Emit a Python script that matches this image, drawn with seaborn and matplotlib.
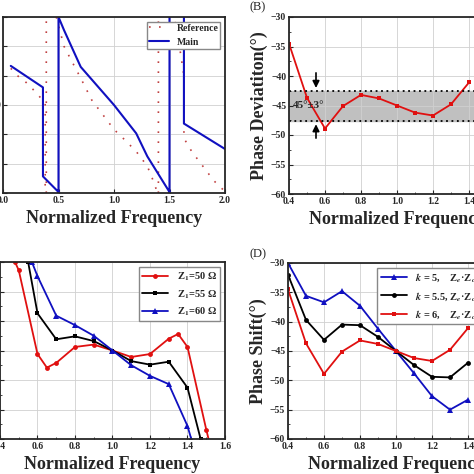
import numpy as np
import matplotlib
matplotlib.use("Agg")
import matplotlib.pyplot as plt
import seaborn as sns

sns.set_style("ticks")
plt.rcParams["font.family"] = ["Liberation Serif", "DejaVu Serif"]
plt.rcParams["font.weight"] = "bold"
plt.rcParams["mathtext.fontset"] = "stix"

# (A) phase vs normalized frequency, NaN breaks the wrapped segments
main_f = [0.07, 0.36, 0.36, 0.5, np.nan, 0.5, 0.5, 0.55, 0.7, 1.0, 1.2, 1.3, 1.5, np.nan,
          1.5, 1.5, np.nan, 1.63, 1.63, 2.0]
main_p = [80, 36, -146, -178, np.nan, -180, 180, 153, 78, 0, -58, -105, -178, np.nan,
          -180, 200, np.nan, 200, -38, -90]
ref_f = [0.07, 0.13, 0.2, 0.27, 0.33, 0.38, 0.38, np.nan, 0.39, 0.39, np.nan,
         0.48, 0.55, 0.6, 0.7, 0.8, 0.9, 1.0, 1.1, 1.2, 1.3, 1.35, 1.38, np.nan, 1.4, 1.4, np.nan,
         1.55, 1.6, 1.63, 1.63, 1.7, 1.8, 1.9, 2.0]
ref_p = [75, 60, 48, 32, 17, 5, -180, np.nan, -180, 180, np.nan,
         180, 120, 98, 55, 10, -20, -50, -72, -95, -125, -153, -172, np.nan, -180, 180, np.nan,
         170, 105, 60, -68, -95, -125, -155, -177]

# (B)/(D) phase shift curves
freq = [0.4, 0.5, 0.6, 0.7, 0.8, 0.9, 1.0, 1.1, 1.2, 1.3, 1.4]
k6 = [-34.5, -43.7, -48.9, -45.1, -43.2, -43.8, -45.0, -46.2, -46.7, -44.8, -41.1]
k55 = [-32.0, -39.7, -43.1, -40.5, -40.6, -42.6, -45.0, -47.4, -49.4, -49.5, -47.0]
k5 = [-30.0, -35.6, -36.7, -34.8, -37.3, -41.2, -45.0, -48.8, -52.7, -55.0, -53.3]

# (C) different Z1
z50_f = [0.48, 0.5, 0.6, 0.65, 0.7, 0.8, 0.9, 1.0, 1.1, 1.2, 1.3, 1.35, 1.4, 1.5, 1.52]
z50 = [-30, -31.4, -45.6, -47.9, -47.1, -44.4, -44.0, -45.0, -46.1, -45.6, -43.0, -42.2, -44.4, -58.4, -61]
z55_f = [0.55, 0.6, 0.7, 0.8, 0.9, 1.0, 1.1, 1.2, 1.3, 1.4, 1.47]
z55 = [-30, -38.7, -43.1, -42.6, -43.4, -45.0, -46.8, -47.4, -46.9, -51.3, -60]
z60_f = [0.57, 0.6, 0.7, 0.8, 0.9, 1.0, 1.1, 1.2, 1.3, 1.4, 1.42]
z60 = [-30, -32.4, -39.1, -40.7, -42.5, -45.0, -47.5, -49.3, -50.7, -57.8, -60]

W = 474.0
fig = plt.figure(figsize=(4.74, 4.74), dpi=100)
axA = fig.add_axes([3 / W, (W - 193) / W, 222 / W, 176 / W])
axB = fig.add_axes([289 / W, (W - 194) / W, 216 / W, 177 / W])
axC = fig.add_axes([0 / W, (W - 439) / W, 225 / W, 177 / W])
axD = fig.add_axes([288 / W, (W - 439) / W, 216 / W, 176 / W])


def style(ax):
    ax.tick_params("both", direction="in", which="both", labelsize=7, pad=2)
    ax.tick_params("both", which="major", length=3)
    ax.tick_params("both", which="minor", length=1.5)
    ax.grid(True, color="#d0d0d0", lw=0.6)
    for s in ax.spines.values():
        s.set_linewidth(1.3)
    for lab in ax.get_xticklabels() + ax.get_yticklabels():
        lab.set_fontweight("bold")
    ax.set_xlabel("Normalized Frequency", fontsize=13, fontweight="bold", labelpad=4)


# (A)
axA.plot(ref_f, ref_p, color="#c04040", ls=(0, (1, 5)), lw=1.2, label="Reference")
axA.plot(main_f, main_p, color="#1010c0", lw=1.5, label="Main")
axA.set_xlim(0, 2)
axA.set_ylim(-180, 180)
axA.set_xticks([0, 0.5, 1.0, 1.5, 2.0])
axA.set_yticks(np.arange(-180, 181, 60))
axA.legend(loc="upper right", fontsize=7, frameon=True, fancybox=False, edgecolor="#888888",
           borderpad=0.2, handlelength=2, framealpha=1)
style(axA)

# (B)
sns.lineplot(x=freq, y=k6, ax=axB, color="#e01010", marker="s", markersize=3.5,
             markeredgewidth=0, lw=1.3)
axB.axhspan(-47.7, -42.5, color="#c0c0c0", zorder=0)
axB.axhline(-42.5, color="black", ls=(0, (1, 2)), lw=1.3)
axB.axhline(-47.7, color="black", ls=(0, (1, 2)), lw=1.3)
axB.annotate("", xy=(0.55, -42.5), xytext=(0.55, -39), arrowprops=dict(arrowstyle="-|>", color="black", lw=1.2))
axB.annotate("", xy=(0.55, -47.7), xytext=(0.55, -51), arrowprops=dict(arrowstyle="-|>", color="black", lw=1.2))
axB.text(0.42, -45, "45°±3°", fontsize=8, fontweight="bold", va="center")
axB.set_xlim(0.4, 1.6)
axB.set_ylim(-60, -30)
axB.set_ylabel("Phase Deviatiton(°)", fontsize=13, fontweight="bold", labelpad=2)
style(axB)
fig.text(250 / W, (W - 7) / W, "(B)", fontsize=9, va="center", fontweight="normal")

# (C)
sns.lineplot(x=z50_f, y=z50, ax=axC, color="#e01010", marker="o", markersize=3.5,
             markeredgewidth=0, lw=1.3, label="Z$_1$=50 Ω")
sns.lineplot(x=z55_f, y=z55, ax=axC, color="black", marker="s", markersize=3.5,
             markeredgewidth=0, lw=1.3, label="Z$_1$=55 Ω")
sns.lineplot(x=z60_f, y=z60, ax=axC, color="#1010c0", marker="^", markersize=4,
             markeredgewidth=0, lw=1.3, label="Z$_1$=60 Ω")
axC.set_xlim(0.4, 1.6)
axC.set_ylim(-60, -30)
axC.legend(loc="upper right", fontsize=7.5, frameon=True, fancybox=False, edgecolor="#888888",
           borderpad=0.3, handlelength=2.5, framealpha=1)
style(axC)

# (D)
sns.lineplot(x=freq, y=k5, ax=axD, color="#1010c0", marker="^", markersize=4,
             markeredgewidth=0, lw=1.3, label="$k$ = 5,    Z$_e$·Z$_o$ = 4000")
sns.lineplot(x=freq, y=k55, ax=axD, color="black", marker="o", markersize=3.5,
             markeredgewidth=0, lw=1.3, label="$k$ = 5.5, Z$_e$·Z$_o$ = 4000")
sns.lineplot(x=freq, y=k6, ax=axD, color="#e01010", marker="s", markersize=3.5,
             markeredgewidth=0, lw=1.3, label="$k$ = 6,    Z$_e$·Z$_o$ = 4000")
axD.set_xlim(0.4, 1.6)
axD.set_ylim(-60, -30)
axD.set_ylabel("Phase Shift(°)", fontsize=13, fontweight="bold", labelpad=2)
axD.legend(loc="upper left", bbox_to_anchor=(0.39, 1.0), fontsize=7.5, frameon=True,
           fancybox=False, edgecolor="#888888", borderpad=0.3, handlelength=2.5, framealpha=1)
style(axD)
fig.text(250 / W, (W - 254) / W, "(D)", fontsize=9, va="center", fontweight="normal")

for ax in (axB, axC, axD):
    ax.set_xticks([0.4, 0.6, 0.8, 1.0, 1.2, 1.4, 1.6])
    ax.set_xticks(np.arange(0.5, 1.6, 0.2), minor=True)
    ax.set_yticks(np.arange(-60, -29, 5))
    ax.set_yticks(np.arange(-57.5, -30, 5), minor=True)
    for lab in ax.get_xticklabels() + ax.get_yticklabels():
        lab.set_fontweight("bold")

fig.savefig("out.png", dpi=100)
